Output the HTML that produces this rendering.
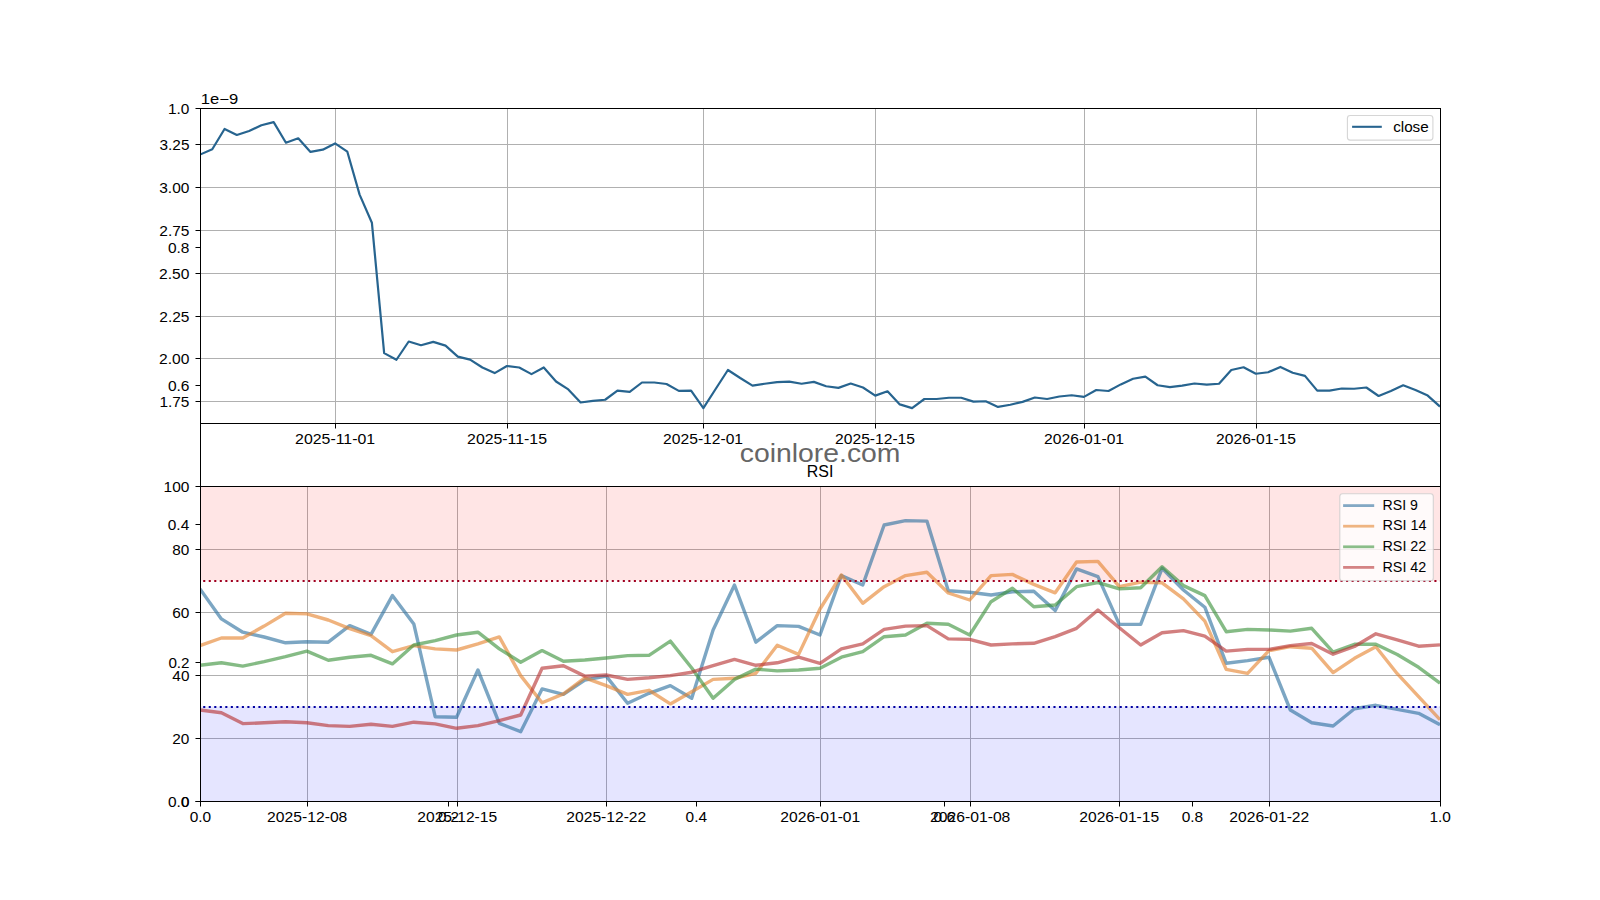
<!DOCTYPE html>
<html><head><meta charset="utf-8"><style>
html,body{margin:0;padding:0;background:#fff;}
svg{display:block;}
text{font-family:"Liberation Sans", sans-serif;}
</style></head><body>
<svg width="1600" height="900" viewBox="0 0 1600 900">
<rect width="1600" height="900" fill="#fff"/>
<rect x="200" y="108" width="1240" height="315" fill="#fff"/>
<line x1="335.50" y1="108.00" x2="335.50" y2="423.00" stroke="#b0b0b0" stroke-width="1.0" />
<line x1="507.50" y1="108.00" x2="507.50" y2="423.00" stroke="#b0b0b0" stroke-width="1.0" />
<line x1="703.50" y1="108.00" x2="703.50" y2="423.00" stroke="#b0b0b0" stroke-width="1.0" />
<line x1="875.50" y1="108.00" x2="875.50" y2="423.00" stroke="#b0b0b0" stroke-width="1.0" />
<line x1="1084.50" y1="108.00" x2="1084.50" y2="423.00" stroke="#b0b0b0" stroke-width="1.0" />
<line x1="1256.50" y1="108.00" x2="1256.50" y2="423.00" stroke="#b0b0b0" stroke-width="1.0" />
<line x1="200.00" y1="144.50" x2="1440.00" y2="144.50" stroke="#b0b0b0" stroke-width="1.0" />
<line x1="200.00" y1="187.50" x2="1440.00" y2="187.50" stroke="#b0b0b0" stroke-width="1.0" />
<line x1="200.00" y1="230.50" x2="1440.00" y2="230.50" stroke="#b0b0b0" stroke-width="1.0" />
<line x1="200.00" y1="273.50" x2="1440.00" y2="273.50" stroke="#b0b0b0" stroke-width="1.0" />
<line x1="200.00" y1="316.50" x2="1440.00" y2="316.50" stroke="#b0b0b0" stroke-width="1.0" />
<line x1="200.00" y1="358.50" x2="1440.00" y2="358.50" stroke="#b0b0b0" stroke-width="1.0" />
<line x1="200.00" y1="401.50" x2="1440.00" y2="401.50" stroke="#b0b0b0" stroke-width="1.0" />
<svg x="200" y="108" width="1240" height="315" overflow="hidden"><g transform="translate(-200,-108)">
<polyline points="200.00,154.60 212.28,149.30 224.55,129.00 236.83,135.00 249.11,131.00 261.39,125.30 273.66,122.10 285.94,142.70 298.22,138.30 310.50,151.90 322.77,149.70 335.05,143.40 347.33,151.70 359.60,194.60 371.88,222.70 384.16,353.10 396.44,359.75 408.71,341.50 420.99,345.25 433.27,341.90 445.54,345.60 457.82,356.60 470.10,359.60 482.38,367.50 494.65,373.10 506.93,366.00 519.21,367.50 531.49,374.10 543.76,367.50 556.04,381.50 568.32,389.40 580.59,402.50 592.87,400.90 605.15,399.75 617.43,390.60 629.70,391.90 641.98,382.50 654.26,382.50 666.53,384.00 678.81,390.90 691.09,390.60 703.37,408.10 715.64,389.00 727.92,370.00 740.20,378.00 752.48,385.60 764.75,383.75 777.03,382.10 789.31,381.60 801.58,383.75 813.86,381.90 826.14,386.25 838.42,387.90 850.69,383.50 862.97,387.50 875.25,395.60 887.52,391.25 899.80,404.40 912.08,408.10 924.36,399.00 936.63,399.00 948.91,397.75 961.19,397.75 973.47,401.60 985.74,401.25 998.02,406.90 1010.30,404.75 1022.57,401.90 1034.85,397.50 1047.13,399.00 1059.41,396.50 1071.68,395.25 1083.96,396.90 1096.24,390.00 1108.51,391.00 1120.79,384.40 1133.07,378.75 1145.35,376.60 1157.62,385.25 1169.90,387.10 1182.18,385.60 1194.46,383.50 1206.73,384.60 1219.01,383.75 1231.29,370.00 1243.56,367.25 1255.84,373.75 1268.12,372.25 1280.40,366.90 1292.67,372.75 1304.95,375.90 1317.23,390.60 1329.50,390.60 1341.78,388.50 1354.06,388.75 1366.34,387.50 1378.61,396.00 1390.89,391.00 1403.17,385.25 1415.45,390.00 1427.72,395.60 1440.00,406.60" fill="none" stroke="#27648f" stroke-width="2.2" stroke-linejoin="round" stroke-linecap="butt" />
</g></svg>
<rect x="200" y="486" width="1240" height="315" fill="#fff"/>
<line x1="307.50" y1="486.00" x2="307.50" y2="801.00" stroke="#b0b0b0" stroke-width="1.0" />
<line x1="457.50" y1="486.00" x2="457.50" y2="801.00" stroke="#b0b0b0" stroke-width="1.0" />
<line x1="606.50" y1="486.00" x2="606.50" y2="801.00" stroke="#b0b0b0" stroke-width="1.0" />
<line x1="820.50" y1="486.00" x2="820.50" y2="801.00" stroke="#b0b0b0" stroke-width="1.0" />
<line x1="970.50" y1="486.00" x2="970.50" y2="801.00" stroke="#b0b0b0" stroke-width="1.0" />
<line x1="1119.50" y1="486.00" x2="1119.50" y2="801.00" stroke="#b0b0b0" stroke-width="1.0" />
<line x1="1269.50" y1="486.00" x2="1269.50" y2="801.00" stroke="#b0b0b0" stroke-width="1.0" />
<line x1="200.00" y1="801.50" x2="1440.00" y2="801.50" stroke="#b0b0b0" stroke-width="1.0" />
<line x1="200.00" y1="738.50" x2="1440.00" y2="738.50" stroke="#b0b0b0" stroke-width="1.0" />
<line x1="200.00" y1="675.50" x2="1440.00" y2="675.50" stroke="#b0b0b0" stroke-width="1.0" />
<line x1="200.00" y1="612.50" x2="1440.00" y2="612.50" stroke="#b0b0b0" stroke-width="1.0" />
<line x1="200.00" y1="549.50" x2="1440.00" y2="549.50" stroke="#b0b0b0" stroke-width="1.0" />
<line x1="200.00" y1="486.50" x2="1440.00" y2="486.50" stroke="#b0b0b0" stroke-width="1.0" />
<rect x="200" y="486.0" width="1240" height="94.5" fill="#ff0000" fill-opacity="0.1"/>
<rect x="200" y="706.5" width="1240" height="94.5" fill="#0000ff" fill-opacity="0.1"/>
<svg x="200" y="486" width="1240" height="315" overflow="hidden"><g transform="translate(-200,-486)">
<polyline points="200.00,588.90 221.38,618.90 242.76,632.20 264.14,637.00 285.52,642.80 306.90,641.70 328.28,642.20 349.66,625.60 371.03,634.40 392.41,595.60 413.79,623.90 435.17,716.70 456.55,717.20 477.93,670.00 499.31,723.30 520.69,731.70 542.07,688.90 563.45,694.40 584.83,680.00 606.21,676.10 627.59,703.30 648.97,693.30 670.34,685.60 691.72,698.30 713.10,630.00 734.48,585.00 755.86,642.20 777.24,625.60 798.62,626.40 820.00,635.00 841.38,575.60 862.76,585.00 884.14,525.00 905.52,520.60 926.90,521.10 948.28,590.80 969.66,592.20 991.03,595.00 1012.41,591.70 1033.79,591.30 1055.17,610.60 1076.55,568.90 1097.93,576.60 1119.31,624.40 1140.69,624.40 1162.07,568.30 1183.45,590.00 1204.83,607.20 1226.21,663.30 1247.59,660.60 1268.97,657.20 1290.34,710.00 1311.72,722.80 1333.10,726.00 1354.48,708.80 1375.86,705.30 1397.24,709.40 1418.62,713.30 1440.00,724.80" fill="none" stroke="#3072a0" stroke-width="3.4" stroke-linejoin="round" stroke-linecap="butt" stroke-opacity="0.63"/>
<polyline points="200.00,645.60 221.38,638.00 242.76,638.00 264.14,626.10 285.52,613.30 306.90,613.90 328.28,620.00 349.66,628.60 371.03,635.60 392.41,651.70 413.79,645.60 435.17,648.90 456.55,650.00 477.93,643.90 499.31,636.90 520.69,675.60 542.07,702.80 563.45,693.90 584.83,677.80 606.21,685.60 627.59,694.40 648.97,690.30 670.34,703.90 691.72,691.70 713.10,679.40 734.48,678.30 755.86,673.30 777.24,645.30 798.62,654.40 820.00,609.00 841.38,575.00 862.76,603.30 884.14,586.70 905.52,575.60 926.90,572.20 948.28,593.00 969.66,600.00 991.03,575.60 1012.41,574.40 1033.79,584.40 1055.17,592.80 1076.55,562.00 1097.93,561.40 1119.31,586.70 1140.69,582.20 1162.07,582.80 1183.45,598.90 1204.83,621.10 1226.21,669.40 1247.59,673.30 1268.97,650.60 1290.34,646.70 1311.72,648.20 1333.10,672.60 1354.48,658.30 1375.86,646.80 1397.24,673.70 1418.62,696.70 1440.00,719.70" fill="none" stroke="#e58531" stroke-width="3.4" stroke-linejoin="round" stroke-linecap="butt" stroke-opacity="0.63"/>
<polyline points="200.00,665.30 221.38,662.80 242.76,666.10 264.14,661.70 285.52,656.70 306.90,651.10 328.28,660.20 349.66,657.20 371.03,655.30 392.41,663.90 413.79,645.00 435.17,640.60 456.55,635.00 477.93,632.20 499.31,648.90 520.69,662.20 542.07,650.60 563.45,661.30 584.83,660.00 606.21,658.00 627.59,655.60 648.97,655.30 670.34,641.10 691.72,668.00 713.10,698.30 734.48,679.40 755.86,669.10 777.24,670.90 798.62,670.00 820.00,668.30 841.38,657.20 862.76,651.70 884.14,636.70 905.52,635.00 926.90,623.30 948.28,624.20 969.66,635.00 991.03,601.70 1012.41,588.30 1033.79,606.70 1055.17,605.00 1076.55,586.70 1097.93,582.50 1119.31,588.90 1140.69,587.80 1162.07,566.70 1183.45,585.60 1204.83,595.60 1226.21,631.70 1247.59,629.40 1268.97,630.00 1290.34,631.10 1311.72,628.30 1333.10,652.10 1354.48,644.30 1375.86,644.30 1397.24,654.50 1418.62,667.30 1440.00,683.20" fill="none" stroke="#3d943d" stroke-width="3.4" stroke-linejoin="round" stroke-linecap="butt" stroke-opacity="0.63"/>
<polyline points="200.00,710.00 221.38,712.80 242.76,723.60 264.14,722.80 285.52,721.70 306.90,722.80 328.28,725.60 349.66,726.40 371.03,724.20 392.41,726.40 413.79,722.20 435.17,723.90 456.55,728.30 477.93,725.60 499.31,720.60 520.69,715.00 542.07,668.30 563.45,665.80 584.83,676.10 606.21,675.00 627.59,679.40 648.97,677.80 670.34,675.60 691.72,672.20 713.10,665.60 734.48,659.40 755.86,665.30 777.24,662.80 798.62,657.20 820.00,663.30 841.38,648.90 862.76,643.90 884.14,629.40 905.52,626.10 926.90,625.60 948.28,638.90 969.66,639.40 991.03,645.00 1012.41,643.90 1033.79,643.30 1055.17,636.70 1076.55,628.30 1097.93,610.00 1119.31,627.80 1140.69,645.00 1162.07,632.80 1183.45,630.60 1204.83,636.10 1226.21,651.10 1247.59,649.40 1268.97,649.40 1290.34,645.60 1311.72,643.50 1333.10,654.20 1354.48,646.50 1375.86,633.80 1397.24,639.80 1418.62,646.20 1440.00,644.90" fill="none" stroke="#b73435" stroke-width="3.4" stroke-linejoin="round" stroke-linecap="butt" stroke-opacity="0.63"/>
</g></svg>
<line x1="200.00" y1="581.00" x2="1440.00" y2="581.00" stroke="#a00020" stroke-width="2.083" stroke-dasharray="2.083 3.438" stroke-dashoffset="2.32"/>
<line x1="200.00" y1="707.00" x2="1440.00" y2="707.00" stroke="#0000a0" stroke-width="2.083" stroke-dasharray="2.083 3.438" stroke-dashoffset="2.32"/>
<line x1="200.50" y1="108.50" x2="200.50" y2="801.50" stroke="#000" stroke-width="1.0" stroke-linecap="square"/>
<line x1="1440.50" y1="108.50" x2="1440.50" y2="801.50" stroke="#000" stroke-width="1.0" stroke-linecap="square"/>
<line x1="200.50" y1="108.50" x2="1440.50" y2="108.50" stroke="#000" stroke-width="1.0" stroke-linecap="square"/>
<line x1="200.50" y1="423.50" x2="1440.50" y2="423.50" stroke="#000" stroke-width="1.0" stroke-linecap="square"/>
<line x1="200.50" y1="486.50" x2="1440.50" y2="486.50" stroke="#000" stroke-width="1.0" stroke-linecap="square"/>
<line x1="200.50" y1="801.50" x2="1440.50" y2="801.50" stroke="#000" stroke-width="1.0" stroke-linecap="square"/>
<line x1="335.50" y1="423.50" x2="335.50" y2="428.50" stroke="#000" stroke-width="1.0" />
<text x="295.11" y="443.60" font-size="13.89" fill="#000" textLength="79.97" lengthAdjust="spacingAndGlyphs" >2025-11-01</text>
<line x1="507.50" y1="423.50" x2="507.50" y2="428.50" stroke="#000" stroke-width="1.0" />
<text x="467.07" y="443.60" font-size="13.89" fill="#000" textLength="79.93" lengthAdjust="spacingAndGlyphs" >2025-11-15</text>
<line x1="703.50" y1="423.50" x2="703.50" y2="428.50" stroke="#000" stroke-width="1.0" />
<text x="663.11" y="443.60" font-size="13.89" fill="#000" textLength="79.97" lengthAdjust="spacingAndGlyphs" >2025-12-01</text>
<line x1="875.50" y1="423.50" x2="875.50" y2="428.50" stroke="#000" stroke-width="1.0" />
<text x="835.07" y="443.60" font-size="13.89" fill="#000" textLength="79.93" lengthAdjust="spacingAndGlyphs" >2025-12-15</text>
<line x1="1084.50" y1="423.50" x2="1084.50" y2="428.50" stroke="#000" stroke-width="1.0" />
<text x="1044.11" y="443.60" font-size="13.89" fill="#000" textLength="79.97" lengthAdjust="spacingAndGlyphs" >2026-01-01</text>
<line x1="1256.50" y1="423.50" x2="1256.50" y2="428.50" stroke="#000" stroke-width="1.0" />
<text x="1216.07" y="443.60" font-size="13.89" fill="#000" textLength="79.93" lengthAdjust="spacingAndGlyphs" >2026-01-15</text>
<line x1="195.50" y1="144.50" x2="200.50" y2="144.50" stroke="#000" stroke-width="1.0" />
<text x="159.56" y="149.78" font-size="13.89" fill="#000" textLength="29.88" lengthAdjust="spacingAndGlyphs" >3.25</text>
<line x1="195.50" y1="187.50" x2="200.50" y2="187.50" stroke="#000" stroke-width="1.0" />
<text x="159.27" y="192.78" font-size="13.89" fill="#000" textLength="30.14" lengthAdjust="spacingAndGlyphs" >3.00</text>
<line x1="195.50" y1="230.50" x2="200.50" y2="230.50" stroke="#000" stroke-width="1.0" />
<text x="159.33" y="235.78" font-size="13.89" fill="#000" textLength="30.12" lengthAdjust="spacingAndGlyphs" >2.75</text>
<line x1="195.50" y1="273.50" x2="200.50" y2="273.50" stroke="#000" stroke-width="1.0" />
<text x="159.03" y="278.78" font-size="13.89" fill="#000" textLength="30.38" lengthAdjust="spacingAndGlyphs" >2.50</text>
<line x1="195.50" y1="316.50" x2="200.50" y2="316.50" stroke="#000" stroke-width="1.0" />
<text x="159.33" y="321.78" font-size="13.89" fill="#000" textLength="30.12" lengthAdjust="spacingAndGlyphs" >2.25</text>
<line x1="195.50" y1="358.50" x2="200.50" y2="358.50" stroke="#000" stroke-width="1.0" />
<text x="159.03" y="363.78" font-size="13.89" fill="#000" textLength="30.38" lengthAdjust="spacingAndGlyphs" >2.00</text>
<line x1="195.50" y1="401.50" x2="200.50" y2="401.50" stroke="#000" stroke-width="1.0" />
<text x="159.44" y="406.78" font-size="13.89" fill="#000" textLength="30.01" lengthAdjust="spacingAndGlyphs" >1.75</text>
<line x1="307.50" y1="801.50" x2="307.50" y2="806.50" stroke="#000" stroke-width="1.0" />
<text x="267.14" y="822.20" font-size="13.89" fill="#000" textLength="80.22" lengthAdjust="spacingAndGlyphs" >2025-12-08</text>
<line x1="457.50" y1="801.50" x2="457.50" y2="806.50" stroke="#000" stroke-width="1.0" />
<text x="417.27" y="822.20" font-size="13.89" fill="#000" textLength="79.93" lengthAdjust="spacingAndGlyphs" >2025-12-15</text>
<line x1="606.50" y1="801.50" x2="606.50" y2="806.50" stroke="#000" stroke-width="1.0" />
<text x="566.36" y="822.20" font-size="13.89" fill="#000" textLength="79.88" lengthAdjust="spacingAndGlyphs" >2025-12-22</text>
<line x1="820.50" y1="801.50" x2="820.50" y2="806.50" stroke="#000" stroke-width="1.0" />
<text x="780.31" y="822.20" font-size="13.89" fill="#000" textLength="79.97" lengthAdjust="spacingAndGlyphs" >2026-01-01</text>
<line x1="970.50" y1="801.50" x2="970.50" y2="806.50" stroke="#000" stroke-width="1.0" />
<text x="930.14" y="822.20" font-size="13.89" fill="#000" textLength="80.22" lengthAdjust="spacingAndGlyphs" >2026-01-08</text>
<line x1="1119.50" y1="801.50" x2="1119.50" y2="806.50" stroke="#000" stroke-width="1.0" />
<text x="1079.27" y="822.20" font-size="13.89" fill="#000" textLength="79.93" lengthAdjust="spacingAndGlyphs" >2026-01-15</text>
<line x1="1269.50" y1="801.50" x2="1269.50" y2="806.50" stroke="#000" stroke-width="1.0" />
<text x="1229.36" y="822.20" font-size="13.89" fill="#000" textLength="79.88" lengthAdjust="spacingAndGlyphs" >2026-01-22</text>
<line x1="195.50" y1="801.50" x2="200.50" y2="801.50" stroke="#000" stroke-width="1.0" />
<text x="181.23" y="806.78" font-size="13.89" fill="#000" textLength="8.14" lengthAdjust="spacingAndGlyphs" >0</text>
<line x1="195.50" y1="738.50" x2="200.50" y2="738.50" stroke="#000" stroke-width="1.0" />
<text x="172.29" y="743.78" font-size="13.89" fill="#000" textLength="17.11" lengthAdjust="spacingAndGlyphs" >20</text>
<line x1="195.50" y1="675.50" x2="200.50" y2="675.50" stroke="#000" stroke-width="1.0" />
<text x="172.38" y="680.78" font-size="13.89" fill="#000" textLength="17.02" lengthAdjust="spacingAndGlyphs" >40</text>
<line x1="195.50" y1="612.50" x2="200.50" y2="612.50" stroke="#000" stroke-width="1.0" />
<text x="172.24" y="617.78" font-size="13.89" fill="#000" textLength="17.17" lengthAdjust="spacingAndGlyphs" >60</text>
<line x1="195.50" y1="549.50" x2="200.50" y2="549.50" stroke="#000" stroke-width="1.0" />
<text x="172.32" y="554.78" font-size="13.89" fill="#000" textLength="17.07" lengthAdjust="spacingAndGlyphs" >80</text>
<line x1="195.50" y1="486.50" x2="200.50" y2="486.50" stroke="#000" stroke-width="1.0" />
<text x="163.56" y="491.78" font-size="13.89" fill="#000" textLength="25.85" lengthAdjust="spacingAndGlyphs" >100</text>
<line x1="200.50" y1="801.50" x2="200.50" y2="806.50" stroke="#000" stroke-width="1.0" />
<text x="189.67" y="822.20" font-size="13.89" fill="#000" textLength="21.46" lengthAdjust="spacingAndGlyphs" >0.0</text>
<line x1="195.50" y1="801.50" x2="200.50" y2="801.50" stroke="#000" stroke-width="1.0" />
<text x="167.95" y="806.78" font-size="13.89" fill="#000" textLength="21.46" lengthAdjust="spacingAndGlyphs" >0.0</text>
<line x1="448.50" y1="801.50" x2="448.50" y2="806.50" stroke="#000" stroke-width="1.0" />
<text x="437.91" y="822.20" font-size="13.89" fill="#000" textLength="21.14" lengthAdjust="spacingAndGlyphs" >0.2</text>
<line x1="195.50" y1="662.50" x2="200.50" y2="662.50" stroke="#000" stroke-width="1.0" />
<text x="168.42" y="667.78" font-size="13.89" fill="#000" textLength="21.14" lengthAdjust="spacingAndGlyphs" >0.2</text>
<line x1="696.50" y1="801.50" x2="696.50" y2="806.50" stroke="#000" stroke-width="1.0" />
<text x="685.60" y="822.20" font-size="13.89" fill="#000" textLength="21.45" lengthAdjust="spacingAndGlyphs" >0.4</text>
<line x1="195.50" y1="524.50" x2="200.50" y2="524.50" stroke="#000" stroke-width="1.0" />
<text x="167.80" y="529.78" font-size="13.89" fill="#000" textLength="21.45" lengthAdjust="spacingAndGlyphs" >0.4</text>
<line x1="944.50" y1="801.50" x2="944.50" y2="806.50" stroke="#000" stroke-width="1.0" />
<text x="933.64" y="822.20" font-size="13.89" fill="#000" textLength="21.59" lengthAdjust="spacingAndGlyphs" >0.6</text>
<line x1="195.50" y1="385.50" x2="200.50" y2="385.50" stroke="#000" stroke-width="1.0" />
<text x="167.90" y="390.78" font-size="13.89" fill="#000" textLength="21.59" lengthAdjust="spacingAndGlyphs" >0.6</text>
<line x1="1192.50" y1="801.50" x2="1192.50" y2="806.50" stroke="#000" stroke-width="1.0" />
<text x="1181.68" y="822.20" font-size="13.89" fill="#000" textLength="21.50" lengthAdjust="spacingAndGlyphs" >0.8</text>
<line x1="195.50" y1="247.50" x2="200.50" y2="247.50" stroke="#000" stroke-width="1.0" />
<text x="167.97" y="252.78" font-size="13.89" fill="#000" textLength="21.50" lengthAdjust="spacingAndGlyphs" >0.8</text>
<line x1="1440.50" y1="801.50" x2="1440.50" y2="806.50" stroke="#000" stroke-width="1.0" />
<text x="1429.41" y="822.20" font-size="13.89" fill="#000" textLength="21.42" lengthAdjust="spacingAndGlyphs" >1.0</text>
<line x1="195.50" y1="108.50" x2="200.50" y2="108.50" stroke="#000" stroke-width="1.0" />
<text x="167.99" y="113.78" font-size="13.89" fill="#000" textLength="21.42" lengthAdjust="spacingAndGlyphs" >1.0</text>
<text x="200.74" y="104.00" font-size="13.89" fill="#000" textLength="37.40" lengthAdjust="spacingAndGlyphs" >1e−9</text>
<text x="739.81" y="461.80" font-size="25.00" fill="#666666" textLength="160.64" lengthAdjust="spacingAndGlyphs" >coinlore.com</text>
<text x="806.79" y="477.40" font-size="16.67" fill="#000" textLength="26.58" lengthAdjust="spacingAndGlyphs" >RSI</text>
<rect x="1347.40" y="115.50" width="85.50" height="24.60" rx="2.8" ry="2.8" fill="#fff" fill-opacity="0.8" stroke="#cccccc" stroke-width="1.111" stroke-opacity="0.8"/>
<line x1="1352.10" y1="126.80" x2="1381.80" y2="126.80" stroke="#27648f" stroke-width="2.083" />
<text x="1393.15" y="131.60" font-size="13.89" fill="#000" textLength="35.59" lengthAdjust="spacingAndGlyphs" >close</text>
<rect x="1339.80" y="493.70" width="93.50" height="87.10" rx="2.8" ry="2.8" fill="#fff" fill-opacity="0.8" stroke="#cccccc" stroke-width="1.111" stroke-opacity="0.8"/>
<line x1="1343.10" y1="505.60" x2="1374.20" y2="505.60" stroke="#3072a0" stroke-width="2.78" stroke-opacity="0.6"/>
<text x="1382.54" y="509.80" font-size="13.89" fill="#000" textLength="35.30" lengthAdjust="spacingAndGlyphs" >RSI 9</text>
<line x1="1343.10" y1="526.20" x2="1374.20" y2="526.20" stroke="#e58531" stroke-width="2.78" stroke-opacity="0.6"/>
<text x="1382.52" y="530.40" font-size="13.89" fill="#000" textLength="44.11" lengthAdjust="spacingAndGlyphs" >RSI 14</text>
<line x1="1343.10" y1="546.80" x2="1374.20" y2="546.80" stroke="#3d943d" stroke-width="2.78" stroke-opacity="0.6"/>
<text x="1382.52" y="551.00" font-size="13.89" fill="#000" textLength="43.79" lengthAdjust="spacingAndGlyphs" >RSI 22</text>
<line x1="1343.10" y1="567.40" x2="1374.20" y2="567.40" stroke="#b73435" stroke-width="2.78" stroke-opacity="0.6"/>
<text x="1382.52" y="571.60" font-size="13.89" fill="#000" textLength="43.79" lengthAdjust="spacingAndGlyphs" >RSI 42</text>
</svg>
</body></html>
